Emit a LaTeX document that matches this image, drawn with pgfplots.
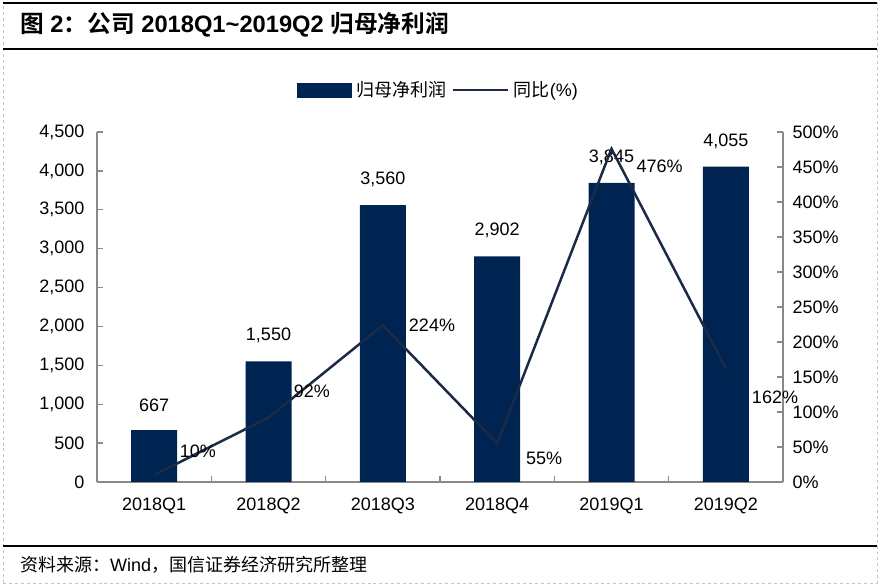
\documentclass[border=0pt]{standalone}
\usepackage{pgfplots}
\pgfplotsset{compat=1.18}
\usepackage{fontspec}
\setmainfont{Liberation Sans}
\newfontfamily\cjk{Noto Sans CJK SC}[BoldFont={Noto Sans CJK SC Bold}]
\definecolor{barblue}{RGB}{0,36,82}
\definecolor{linenavy}{RGB}{27,42,71}
\definecolor{axgray}{RGB}{137,137,137}
\pgfplotsset{/pgf/number format/assume math mode=true}
\begin{document}
\begin{tikzpicture}[x=1bp,y=1bp]
\useasboundingbox (0,0) rectangle (879,585);
\draw[gray!45, dashed, line width=0.6bp] (3,2) rectangle (877,582);
\draw[black, line width=1.5bp] (3,582) -- (877,582);
\draw[black, line width=1.3bp] (3,536) -- (877,536);
\draw[black, line width=1.3bp] (3,39) -- (877,39);
\node[anchor=west, inner sep=0] at (20,560) {\fontsize{23.7bp}{28bp}\selectfont\bfseries{\cjk 图} 2{\cjk ：公司} 2018Q1\textasciitilde2019Q2 {\cjk 归母净利润}};
\node[anchor=west, inner sep=0] at (20,20) {\fontsize{18bp}{21bp}\selectfont{\cjk 资料来源：}Wind{\cjk ，国信证券经济研究所整理}};

\begin{axis}[
  at={(97bp,103bp)}, anchor=south west, scale only axis,
  width=686bp, height=350bp,
  xmin=-0.5, xmax=5.5, ymin=0, ymax=4500,
  axis y line*=left, axis x line*=bottom,
  axis line style={axgray, line width=1.3bp},
  xtick={0,...,5},
  xticklabels={2018Q1,2018Q2,2018Q3,2018Q4,2019Q1,2019Q2},
  major x tick style={draw=none},
  minor xtick={0.5,1.5,...,4.5},
  minor x tick style={axgray, line width=1.3bp},
  minor tick length=6bp,
  ytick={0,500,...,4500},
  major y tick style={axgray, line width=1.3bp},
  major tick length=6bp,
  tick align=inside,
  /pgf/number format/1000 sep={,},
  tick label style={font=\fontsize{18bp}{21bp}\selectfont, black},
  yticklabel style={xshift=-9bp},
  xticklabel style={yshift=-12bp},
]
\addplot[ybar, fill=barblue, draw=none, bar width=46bp,
  nodes near coords,
  every node near coord/.append style={anchor=south, inner sep=0pt, yshift=18bp, font=\fontsize{18bp}{21bp}\selectfont, black}]
  coordinates {(0,667) (1,1550) (2,3560) (3,2902) (4,3845) (5,4055)};
\end{axis}

\begin{axis}[
  at={(97bp,103bp)}, anchor=south west, scale only axis,
  width=686bp, height=350bp,
  xmin=-0.5, xmax=5.5, ymin=0, ymax=500,
  axis y line*=right, axis x line=none,
  axis line style={axgray, line width=1.3bp},
  ytick={0,50,...,500},
  yticklabel={\pgfmathprintnumber{\tick}\%},
  major y tick style={axgray, line width=1.3bp},
  major tick length=6bp,
  tick align=inside,
  tick label style={font=\fontsize{18bp}{21bp}\selectfont, black},
  yticklabel style={xshift=6bp},
  clip=false,
  legend columns=2,
  legend style={draw=none, fill=none, at={(0.5,1.12)}, anchor=center,
    font=\fontsize{18bp}{21bp}\selectfont,
    nodes={inner sep=5bp},
    /tikz/every even column/.append style={column sep=0bp}},
]
\addlegendimage{legend image code/.code={\fill[barblue] (0bp,-7bp) rectangle (54bp,7bp);}}
\addlegendentry{\cjk 归母净利润}
\addplot[linenavy, line width=2.5bp, mark=none,
  legend image code/.code={\draw[linenavy, line width=2.5bp] (0bp,0bp) -- (55bp,0bp);}]
  coordinates {(0,10) (1,92) (2,224) (3,55) (4,476) (5,162)};
\addlegendentry{{\cjk 同比}(\%)}
\addplot[draw=none, mark=none, forget plot,
  nodes near coords, point meta=explicit symbolic,
  every node near coord/.append style={anchor=center, inner sep=0pt, font=\fontsize{18bp}{21bp}\selectfont, black}]
  coordinates {(0.383,44) [10\%] (1.38,130) [92\%] (2.43,224) [224\%] (3.41,34) [55\%] (4.42,451) [476\%] (5.43,121) [162\%]};
\end{axis}
\end{tikzpicture}
\end{document}
